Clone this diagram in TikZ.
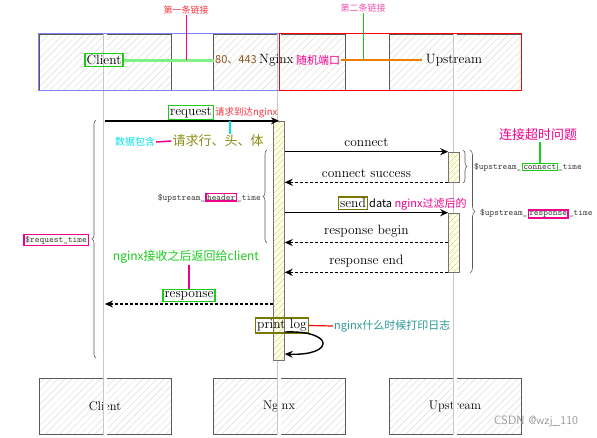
\documentclass[tikz,border=0pt]{standalone}
\usepackage{fontspec}
\newfontfamily\cjk{Noto Sans CJK SC}
\usetikzlibrary{arrows.meta,patterns.meta,decorations.pathreplacing}

\definecolor{hlgreen}{RGB}{25,205,25}
\definecolor{linkgreen}{RGB}{130,240,130}
\definecolor{linkblue}{RGB}{130,130,245}
\definecolor{linkred}{RGB}{250,50,60}
\definecolor{portbrown}{RGB}{140,80,20}
\definecolor{hlolive}{RGB}{120,120,0}
\definecolor{txtolive}{RGB}{140,140,20}
\definecolor{txtcyan}{RGB}{0,225,230}
\definecolor{txtteal}{RGB}{40,150,150}
\definecolor{linkorange}{RGB}{240,125,0}

\tikzset{
  actor/.style={draw=black!65, line width=0.9pt, minimum width=132pt, minimum height=56pt,
    pattern={Lines[angle=45,distance=5pt,line width=0.3pt]}, pattern color=black!18,
    font=\fontsize{12.5}{14}\selectfont},
  lifeline/.style={draw=black!22, line width=0.5pt, double=white, double distance=3pt},
  bar/.style={draw=black!55, line width=0.6pt, minimum width=11pt, preaction={fill=yellow!10},
    pattern={Lines[angle=45,distance=4pt,line width=0.4pt]}, pattern color=olive!45},
  msg/.style={line width=1.4pt, -{Stealth[length=8pt,width=7pt]}},
  reply/.style={msg, dash pattern=on 3pt off 2pt},
  hand/.style={font=\fontsize{13.5}{15}\selectfont},
  lbl/.style={font=\fontsize{9}{11}\ttfamily, text=black!75, inner sep=0pt},
  hl/.style={draw=#1, line width=1.2pt, inner sep=1.5pt},
  cn/.style={font=\cjk\fontsize{#1}{#1}\selectfont, inner sep=1pt},
  brc/.style={decorate, decoration={brace, amplitude=#1}, draw=black!65, line width=0.6pt},
}

\begin{document}
\begin{tikzpicture}[x=1pt,y=-1pt]
\useasboundingbox (0,0) rectangle (597,437);

% actors top and bottom
\node[actor] (cliTop) at (105,62) {};
\node[actor] (ngxTop) at (279,62) {};
\node[actor] (upsTop) at (455,62) {};
\node[actor] (cliBot) at (105,406.5) {Client};
\node[actor] (ngxBot) at (279,406.5) {Nginx};
\node[actor] (upsBot) at (455,406.5) {Upstream};

\draw[lifeline] (cliTop.north) -- (cliBot.south);
\draw[lifeline] (ngxTop.north) -- (ngxBot.south);
\draw[lifeline] (upsTop.north) -- (upsBot.south);

% the two connections
\draw[linkblue, line width=0.9pt] (cliTop.north west) rectangle (ngxTop.south);
\draw[red, line width=1pt] (ngxTop.north) rectangle (upsTop.south east);

\node[hl=hlgreen, hand] (cliName) at (104,60) {Client};
\node[cn=11, text=portbrown, anchor=west] (portTxt) at (214,60) {80、443};
\node[hand, anchor=west, inner sep=1pt] (ngxName) at (portTxt.east) {Nginx};
\node[cn=11, text=magenta, anchor=west] (rndPort) at (ngxName.east) {随机端口};
\node[hand] (upsName) at (454,60) {Upstream};
\draw[linkgreen, line width=3pt] (cliName.east) -- (portTxt.west);
\draw[linkorange, line width=2.5pt] (rndPort.east) -- (upsName.west);

\node[cn=9, text=linkred] (link1) at (186,10) {第一条链接};
\node[cn=9, text=magenta!70] (link2) at (363,8) {第二条链接};
\draw[magenta, line width=1pt] (link1.south) -- (link1.south |- cliName.east);
\draw[hlgreen, line width=1pt] (link2.south) -- (link2.south |- rndPort.east);

% activation bars
\node[bar, minimum height=239pt] (ngxBar) at (279,240.5) {};
\node[bar, minimum height=30pt] (upsBar1) at (454,167) {};
\node[bar, minimum height=59pt] (upsBar2) at (454,242.5) {};

% request
\coordinate (reqStart) at (cliTop.center |- ngxBar.north);
\draw[msg] (reqStart) -- (ngxBar.north);
\node[hl=hlgreen, hand, anchor=south] (reqTxt) at (191,120) {request};
\node[cn=9.5, text=linkred, anchor=west] (arrive) at (reqTxt.east) {请求到达nginx};
\node[cn=10, text=txtcyan] (pktTxt) at (135,142) {数据包含};
\node[cn=13, text=txtolive] (rowsTxt) at (218,141) {请求行、头、体};
\coordinate (reqMid) at (230,121);
\draw[txtcyan, line width=1.5pt] (reqMid) -- (reqMid |- rowsTxt.north);
\draw[magenta, line width=1.5pt] (pktTxt.east) -- (rowsTxt.west);

% upstream messages
\draw[msg] (ngxBar.east |- upsBar1.north) -- (upsBar1.north west)
  node[midway, above=1pt, hand] (conTxt) {connect};
\draw[reply] (upsBar1.south west) -- (ngxBar.east |- upsBar1.south)
  node[midway, above=1pt, hand] (conOkTxt) {connect success};
\draw[msg] (ngxBar.east |- upsBar2.north) -- (upsBar2.north west);
\node[hl=hlolive, hand, anchor=south] (sendTxt) at (353,210) {send};
\node[cn=11, anchor=base west] (dataTxt) at (sendTxt.base east) {data};
\node[cn=11, text=magenta, anchor=base west] (filtTxt) at (dataTxt.base east) {nginx过滤后的};
\draw[reply] (upsBar2.west) -- (ngxBar.east |- upsBar2.west)
  node[midway, above=1pt, hand] (beginTxt) {response begin};
\draw[reply] (upsBar2.south west) -- (ngxBar.east |- upsBar2.south)
  node[midway, above=1pt, hand] (endTxt) {response end};

% timings
\draw[brc=4pt] (96,358) -- (96,120);
\node[hl=magenta, lbl, inner sep=1.5pt, anchor=east] (reqTime) at (89,240) {\$request\_time};

\draw[brc=4pt] (267,243) -- (267,150);
\node[lbl, anchor=base east] (hdC) at (261,200) {\_time};
\node[hl=magenta, lbl, inner sep=1pt, anchor=base east] (hdB) at (hdC.base west) {header};
\node[lbl, anchor=base east] (hdA) at (hdB.base west) {\$upstream\_};

\draw[brc=4pt] (463,150) -- (463,183);
\node[lbl, anchor=base west] (ctA) at (474,169.5) {\$upstream\_};
\node[hl=hlgreen, lbl, inner sep=1pt, anchor=base west] (ctB) at (ctA.base east) {connect};
\node[lbl, anchor=base west] (ctC) at (ctB.base east) {\_time};
\node[cn=13, text=magenta] (toTxt) at (538,135) {连接超时问题};
\draw[hlgreen, line width=1.5pt] (ctB.north) -- (ctB.north |- toTxt.south);

\draw[brc=5pt] (470,150) -- (470,273);
\node[lbl, anchor=base west] (rsA) at (480,215) {\$upstream\_};
\node[hl=magenta, lbl, inner sep=1pt, anchor=base west] (rsB) at (rsA.base east) {response};
\node[lbl, anchor=base west] (rsC) at (rsB.base east) {\_time};

% response to client
\coordinate (respY) at (0,304);
\draw[reply] (ngxBar.west |- respY) -- (cliTop.center |- respY);
\node[hl=hlgreen, hand, anchor=south] (respTxt) at (189,302) {response};
\node[cn=12, text=hlgreen] (backTxt) at (186,257) {nginx接收之后返回给client};
\draw[magenta, line width=1.5pt] (backTxt.south -| respTxt.north) -- (respTxt.north);

% log
\node[hl=hlolive, hand] (logTxt) at (282,325.5) {print log};
\node[cn=11, text=txtteal, anchor=west] (whenTxt) at (333,326) {nginx什么时候打印日志};
\draw[red, line width=1.2pt] (logTxt.east) -- (whenTxt.west);
\coordinate (loopA) at (0,332);
\coordinate (loopB) at (0,354);
\draw[msg] (ngxBar.east |- loopA) .. controls (335,330) and (335,356) .. (ngxBar.east |- loopB);

\node[text=black!40, font=\sffamily\fontsize{12}{14}\selectfont] (mark) at (536,421) {CSDN @wzj\_110};
\end{tikzpicture}
\end{document}
